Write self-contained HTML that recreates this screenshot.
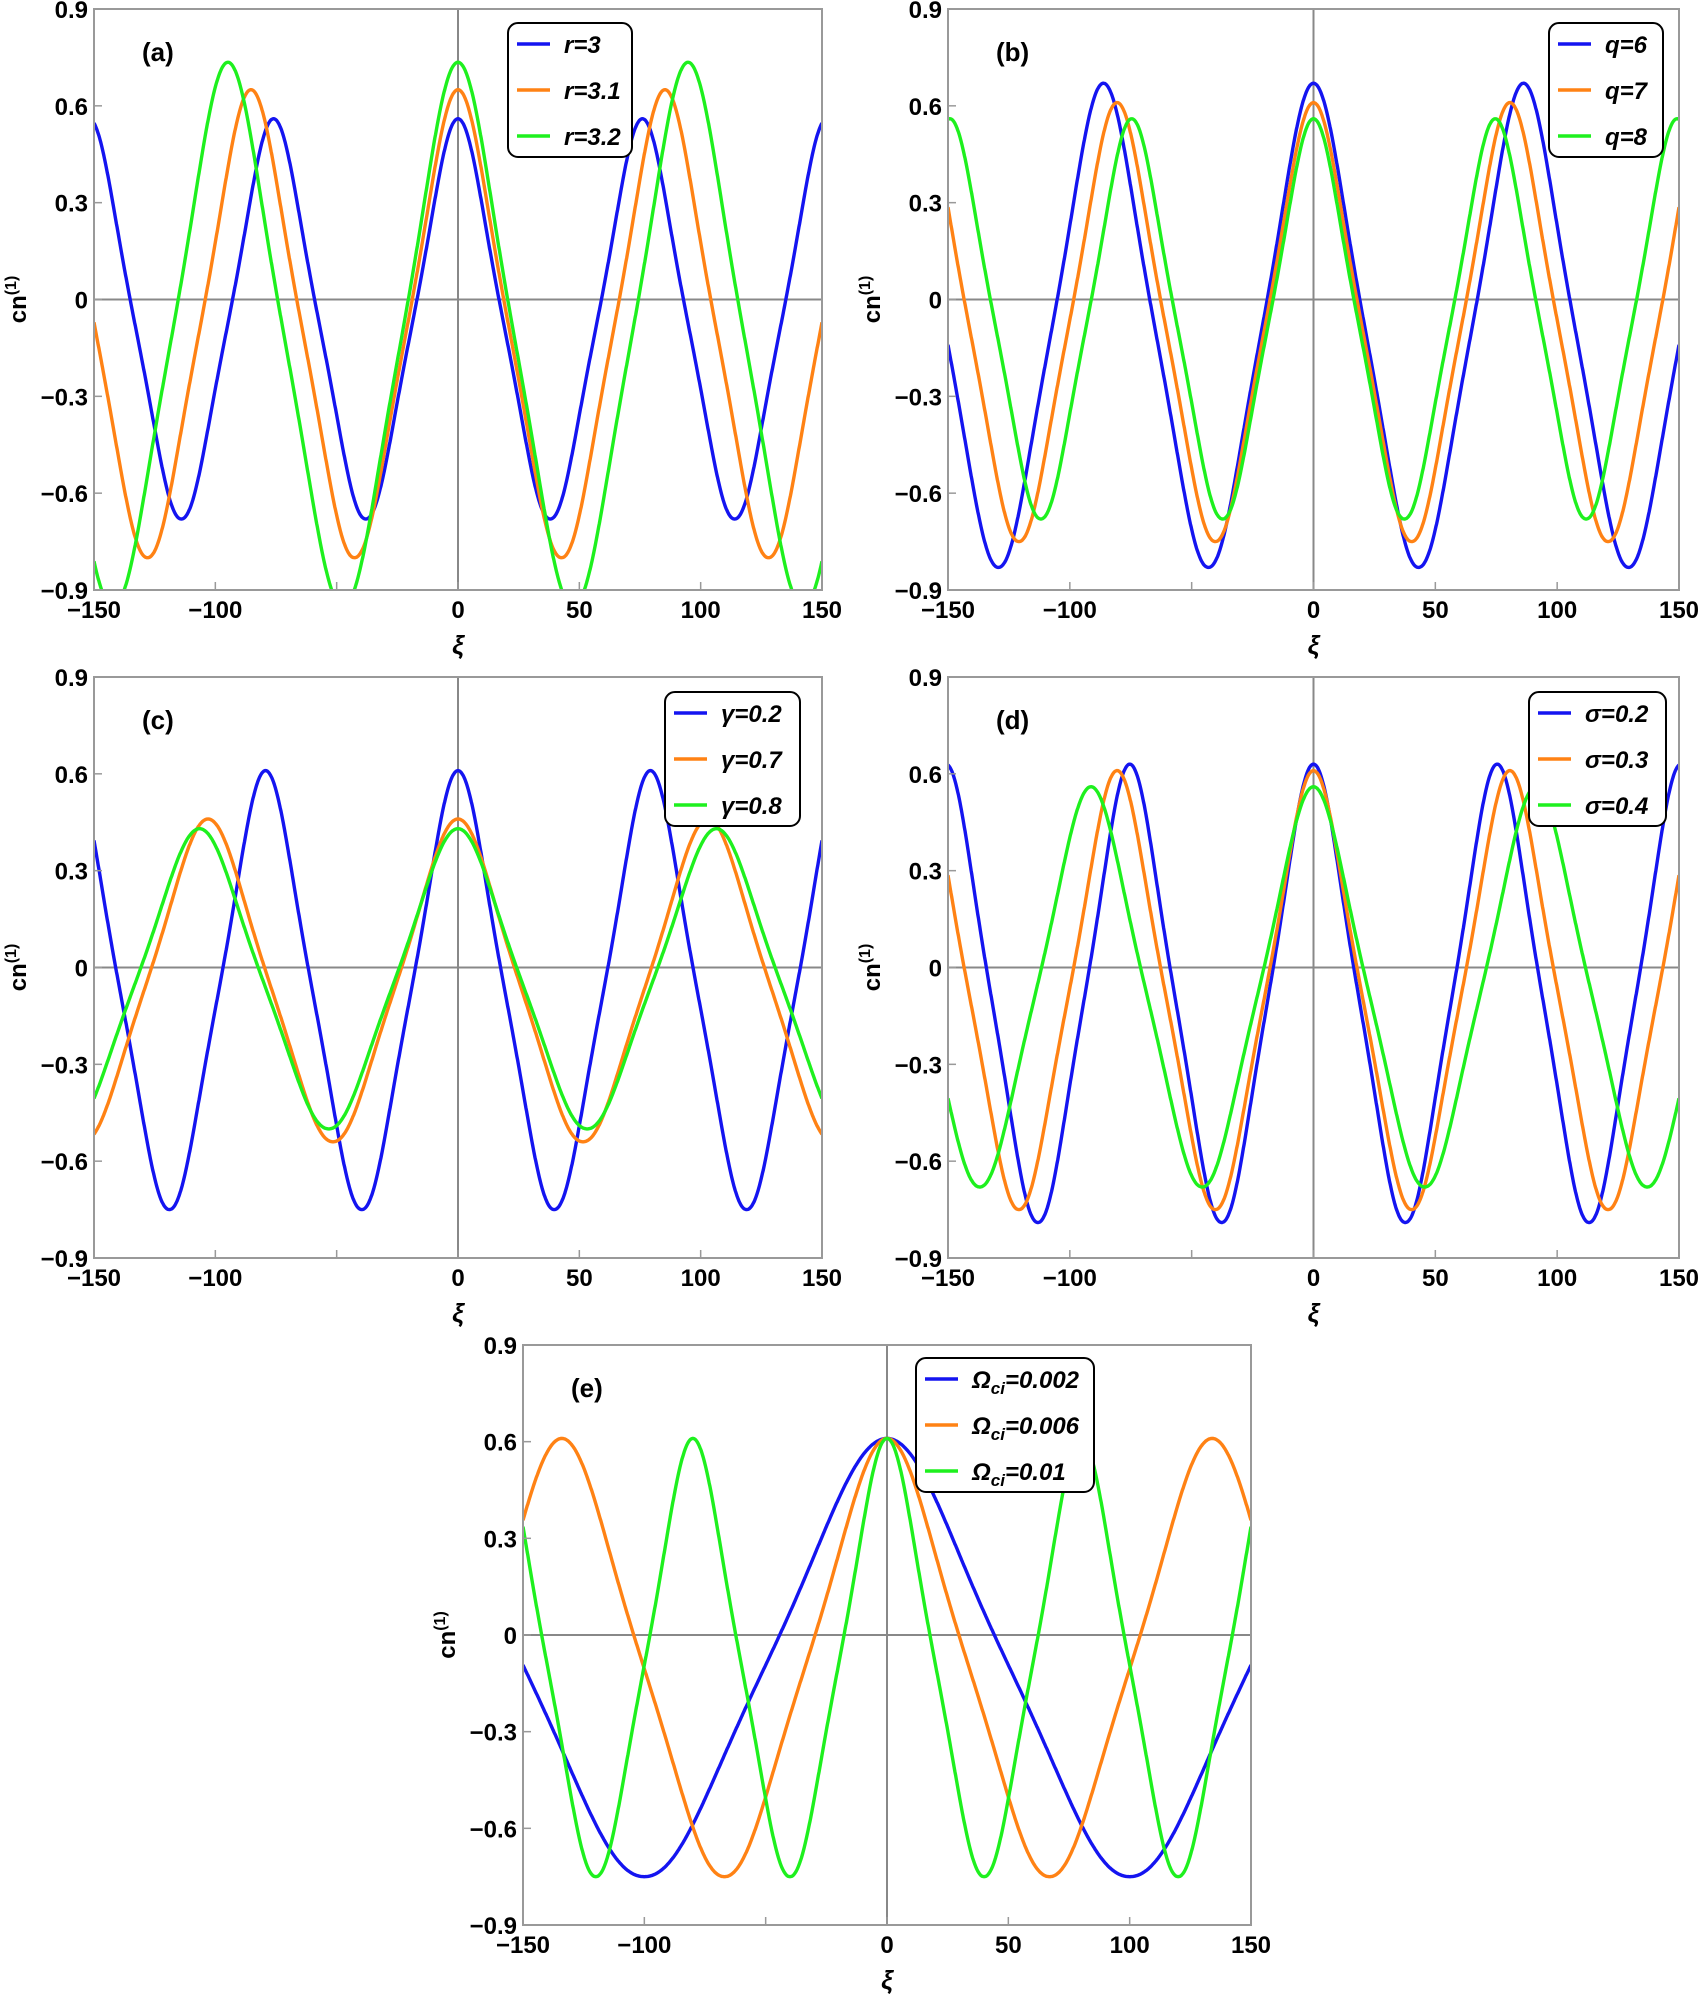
<!DOCTYPE html>
<html><head><meta charset="utf-8"><style>
html,body{margin:0;padding:0;background:#fff;}
svg text{font-family:"Liberation Sans",sans-serif;font-weight:bold;}
</style></head><body>
<svg id="s" width="1699" height="1996" viewBox="0 0 1699 1996" xmlns="http://www.w3.org/2000/svg"></svg>
<script>
const S=document.getElementById('s');
const NS='http://www.w3.org/2000/svg';
function el(t,a,txt){const e=document.createElementNS(NS,t);for(const k in a)e.setAttribute(k,a[k]);if(txt!==undefined)e.textContent=txt;S.appendChild(e);return e;}
const C={b:'#1414f0',o:'#ff8214',g:'#1ef01e'};
function panel(L,R,T,B,label,series,leg){
  const X=x=>L+(x+150)/300*(R-L), Y=y=>T+(0.9-y)/1.8*(B-T);
  const clip='c'+label;
  const cp=el('clipPath',{id:clip});const r=document.createElementNS(NS,'rect');
  r.setAttribute('x',L);r.setAttribute('y',T);r.setAttribute('width',R-L);r.setAttribute('height',B-T);cp.appendChild(r);
  el('line',{x1:L,x2:R,y1:Y(0),y2:Y(0),stroke:'#888','stroke-width':2});
  el('line',{x1:X(0),x2:X(0),y1:T,y2:B,stroke:'#888','stroke-width':2});
  for(const s of series){
    let d='';
    for(let i=0;i<=1200;i++){const x=-150+i*300/1200;const th=2*Math.PI*x/s.P;
      const c=(Math.cos(th)+0.07*Math.cos(3*th))/1.07;
      const g=Math.pow((1+c)/2,1.05);const y=s.mn+(s.mx-s.mn)*g;
      d+=(i?'L':'M')+X(x).toFixed(1)+' '+Y(y).toFixed(1);}
    el('path',{d:d,fill:'none',stroke:C[s.c],'stroke-width':3.4,'clip-path':'url(#'+clip+')'});
  }
  el('rect',{x:L,y:T,width:R-L,height:B-T,fill:'none',stroke:'#999','stroke-width':2});
  [-150,-100,-50,0,50,100,150].forEach(v=>{el('line',{x1:X(v),x2:X(v),y1:B,y2:B-8,stroke:'#999','stroke-width':1.5});
    if(v!==-50)el('text',{x:X(v),y:B+28,'text-anchor':'middle','font-size':24},(v<0?'\u2212':'')+Math.abs(v));});
  [0.9,0.6,0.3,0,-0.3,-0.6,-0.9].forEach(v=>{el('line',{x1:L,x2:L+8,y1:Y(v),y2:Y(v),stroke:'#999','stroke-width':1.5});
    el('text',{x:L-6,y:Y(v)+9,'text-anchor':'end','font-size':24},v===0?'0':(v<0?'\u2212':'')+Math.abs(v).toFixed(1));});
  el('text',{x:(L+R)/2,y:B+64,'text-anchor':'middle','font-size':26,'font-style':'italic'},'ξ');
  const yl=el('text',{x:0,y:0,'text-anchor':'middle','font-size':24,transform:'translate('+(L-68)+','+((T+B)/2)+') rotate(-90)'});
  yl.innerHTML='cn<tspan dy="-10" font-size="16">(1)</tspan>';
  el('text',{x:L+48,y:T+52,'font-size':26},'('+label+')');
  el('rect',{x:leg.x,y:leg.y,width:leg.w,height:134,rx:10,fill:'#fff',stroke:'#000','stroke-width':2});
  leg.items.forEach((it,i)=>{const yy=leg.y+21+i*46;
    el('line',{x1:leg.x+9,x2:leg.x+42,y1:yy,y2:yy,stroke:C[it[0]],'stroke-width':3.5});
    const t=el('text',{x:leg.x+56,y:yy+9,'font-size':24,'font-style':'italic'});t.innerHTML=it[1];});
}
const s=(c,mx,mn,P)=>({c,mx,mn,P});
panel(94,822,9,590,'a',[s('b',.56,-.68,76),s('o',.65,-.80,85.3),s('g',.735,-.95,94.8)],
 {x:508,y:23,w:124,items:[['b','r=3'],['o','r=3.1'],['g','r=3.2']]});
panel(948,1679,9,590,'b',[s('b',.67,-.83,86.2),s('o',.61,-.75,80.6),s('g',.56,-.68,74.6)],
 {x:1549,y:23,w:114,items:[['b','q=6'],['o','q=7'],['g','q=8']]});
panel(94,822,677,1258,'c',[s('b',.61,-.75,79.3),s('o',.46,-.54,103),s('g',.43,-.50,106.5)],
 {x:665,y:692,w:135,items:[['b','γ=0.2'],['o','γ=0.7'],['g','γ=0.8']]});
panel(948,1679,677,1258,'d',[s('b',.63,-.79,75.4),s('o',.61,-.75,80.6),s('g',.56,-.68,91.3)],
 {x:1529,y:692,w:137,items:[['b','σ=0.2'],['o','σ=0.3'],['g','σ=0.4']]});
panel(523,1251,1345,1925,'e',[s('b',.61,-.75,200),s('o',.61,-.75,134),s('g',.61,-.75,80)],
 {x:916,y:1358,w:178,items:[['b','Ω<tspan dy="6" font-size="17">ci</tspan><tspan dy="-6">=0.002</tspan>'],['o','Ω<tspan dy="6" font-size="17">ci</tspan><tspan dy="-6">=0.006</tspan>'],['g','Ω<tspan dy="6" font-size="17">ci</tspan><tspan dy="-6">=0.01</tspan>']]});
</script>
</body></html>
